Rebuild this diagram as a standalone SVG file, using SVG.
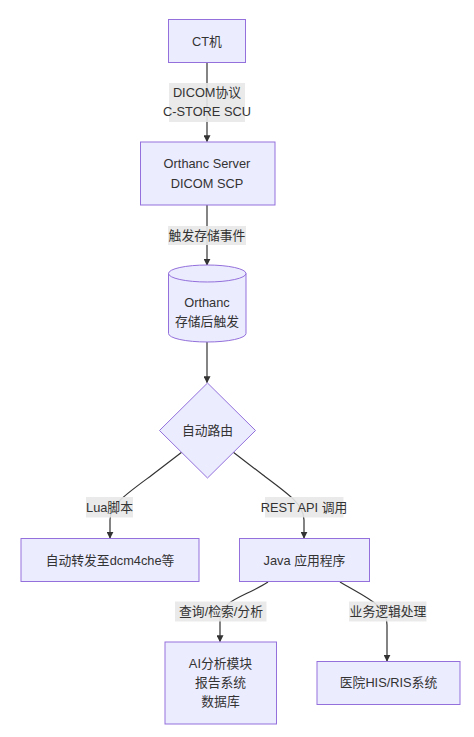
<svg xmlns="http://www.w3.org/2000/svg" width="474" height="737" viewBox="0 0 474 737">
<defs>
<marker id="arr" viewBox="0 0 10 10" refX="9" refY="5" markerWidth="7" markerHeight="7" markerUnits="userSpaceOnUse" orient="auto">
<path d="M0,0 L10,5 L0,10 z" fill="#333"/>
</marker>
<style>
.n{fill:#ECECFF;stroke:#9370DB;stroke-width:1}
.t{font-family:"Liberation Sans","Noto Sans CJK SC",sans-serif;font-size:12.8px;fill:#333;text-anchor:middle;dominant-baseline:central}
.e{fill:none;stroke:#333;stroke-width:1.2;marker-end:url(#arr)}
.lb{fill:#e8e8e8;fill-opacity:0.9}
</style>
</defs>
<rect width="474" height="737" fill="#fff"/>
<g id="edges">
<path class="e" d="M207,63 L207,141.5"/>
<path class="e" d="M207,205 L207,265"/>
<path class="e" d="M207,342 L207,382.5"/>
<path class="e" d="M182,452 L152,475 C125,495 110,505 110,520 L110,538"/>
<path class="e" d="M233,452 L263,475 C290,495 304,505 304,520 L304,538"/>
<path class="e" d="M268,582 C245,597 220,600 220,620 L220,641.5"/>
<path class="e" d="M340,582 C365,597 387,605 387,625 L387,661"/>
</g>
<g id="edge-labels">
<rect class="lb" x="169" y="83" width="76" height="39"/>
<text class="t" x="207" y="92.5">DICOM协议</text>
<text class="t" x="207" y="111.5">C-STORE SCU</text>
<rect class="lb" x="168" y="226" width="78" height="19"/>
<text class="t" x="207" y="235">触发存储事件</text>
<rect class="lb" x="86" y="497" width="47" height="20.5"/>
<text class="t" x="109.5" y="507.5">Lua脚本</text>
<rect class="lb" x="265" y="497" width="78.5" height="20.5"/>
<text class="t" x="304" y="507.5">REST API 调用</text>
<rect class="lb" x="175" y="601.5" width="91.5" height="20"/>
<text class="t" x="221" y="611.5">查询/检索/分析</text>
<rect class="lb" x="349" y="601.5" width="77.5" height="20"/>
<text class="t" x="388" y="611.5">业务逻辑处理</text>
</g>
<g id="ct">
<rect class="n" x="168.5" y="19.5" width="77" height="43"/>
<text class="t" x="207" y="41">CT机</text>
</g>
<g id="orthanc-server">
<rect class="n" x="140.5" y="142" width="134.5" height="63"/>
<text class="t" x="207" y="163.5">Orthanc Server</text>
<text class="t" x="207" y="183">DICOM SCP</text>
</g>
<g id="orthanc-store">
<path class="n" d="M168.5,273.5 A38.75,8.5 0 0 1 246,273.5 L246,333.5 A38.75,8.5 0 0 1 168.5,333.5 Z"/>
<path class="n" style="fill:none" d="M168.5,273.5 A38.75,8.5 0 0 0 246,273.5"/>
<text class="t" x="207" y="302">Orthanc</text>
<text class="t" x="207" y="321">存储后触发</text>
</g>
<g id="router">
<polygon class="n" points="207.5,383 255.5,430.5 207.5,478 159.5,430.5"/>
<text class="t" x="207.5" y="430.5">自动路由</text>
</g>
<g id="forward">
<rect class="n" x="21" y="538.5" width="178" height="43"/>
<text class="t" x="110" y="560">自动转发至dcm4che等</text>
</g>
<g id="java">
<rect class="n" x="239.5" y="538.5" width="130" height="43"/>
<text class="t" x="304.5" y="560">Java 应用程序</text>
</g>
<g id="ai">
<rect class="n" x="165" y="642" width="111.5" height="82"/>
<text class="t" x="220.5" y="663.5">AI分析模块</text>
<text class="t" x="220.5" y="682.5">报告系统</text>
<text class="t" x="220.5" y="701.5">数据库</text>
</g>
<g id="his">
<rect class="n" x="317" y="661.5" width="143" height="43"/>
<text class="t" x="388.5" y="682.5">医院HIS/RIS系统</text>
</g>
</svg>
